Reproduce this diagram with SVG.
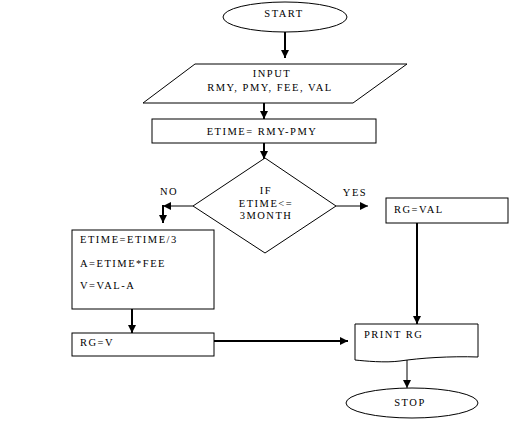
<svg xmlns="http://www.w3.org/2000/svg" width="528" height="421" viewBox="0 0 528 421">
<style>
.s{fill:#fff;stroke:#000;stroke-width:1}
.t{font-family:"Liberation Serif","Times New Roman",serif;font-size:10.5px;letter-spacing:1.5px;fill:#000}
.m{text-anchor:middle}
.c{fill:none;stroke:#000}
.k{stroke-width:2}
.n{stroke-width:1}
</style>
<defs>
<marker id="ah" markerUnits="userSpaceOnUse" markerWidth="8" markerHeight="8" refX="8" refY="4" orient="auto">
<path d="M0,0 L8,4 L0,8 z" fill="#000"/>
</marker>
</defs>
<rect width="528" height="421" fill="#fff"/>
<g id="connectors">
<line class="c k" x1="285" y1="32" x2="285" y2="58" marker-end="url(#ah)"/>
<line class="c k" x1="264" y1="103" x2="264" y2="119" marker-end="url(#ah)"/>
<line class="c k" x1="264" y1="143" x2="264" y2="159" marker-end="url(#ah)"/>
<line class="c n" x1="193" y1="206" x2="163" y2="206" marker-end="url(#ah)"/>
<line class="c k" x1="163" y1="205" x2="163" y2="223" marker-end="url(#ah)"/>
<line class="c n" x1="336" y1="206" x2="368" y2="206" marker-end="url(#ah)"/>
<line class="c k" x1="132" y1="309" x2="132" y2="333" marker-end="url(#ah)"/>
<line class="c k" x1="214" y1="341" x2="348" y2="341" marker-end="url(#ah)"/>
<line class="c k" x1="417" y1="223" x2="417" y2="324" marker-end="url(#ah)"/>
<line class="c n" x1="407" y1="360" x2="407" y2="388" marker-end="url(#ah)"/>
</g>
<g id="start">
<ellipse class="s" cx="285" cy="17" rx="62" ry="15"/>
<text class="t m" x="284" y="17">START</text>
</g>
<g id="input">
<polygon class="s" points="195,64 407,64 353,103 143,103"/>
<text class="t m" x="272" y="77">INPUT</text>
<text class="t m" x="270" y="91">RMY, PMY, FEE, VAL</text>
</g>
<g id="etime">
<rect class="s" x="152" y="119" width="224" height="24"/>
<text class="t m" x="262" y="135">ETIME= RMY-PMY</text>
</g>
<g id="decision">
<polygon class="s" points="265,158 336,206 265,253 193,206"/>
<text class="t m" x="266" y="194">IF</text>
<text class="t m" x="266" y="207">ETIME&lt;=</text>
<text class="t m" x="266" y="219">3MONTH</text>
</g>
<g id="label-no">
<text class="t m" x="169" y="195">NO</text>
</g>
<g id="label-yes">
<text class="t m" x="355" y="196">YES</text>
</g>
<g id="calc">
<rect class="s" x="72" y="230" width="142" height="79"/>
<text class="t" x="80" y="243">ETIME=ETIME/3</text>
<text class="t" x="80" y="267">A=ETIME*FEE</text>
<text class="t" x="80" y="289">V=VAL-A</text>
</g>
<g id="rgv">
<rect class="s" x="72" y="333" width="142" height="23"/>
<text class="t" x="80" y="346">RG=V</text>
</g>
<g id="rgval">
<rect class="s" x="386" y="198" width="122" height="25"/>
<text class="t" x="394" y="213">RG=VAL</text>
</g>
<g id="print">
<path class="s" d="M355,324 H478 V357 C450,356 420,358 400,361 C385,363 365,361 355,360 Z"/>
<text class="t" x="364" y="338">PRINT RG</text>
</g>
<g id="stop">
<ellipse class="s" cx="412" cy="403" rx="66" ry="15"/>
<text class="t m" x="410" y="406">STOP</text>
</g>
</svg>
